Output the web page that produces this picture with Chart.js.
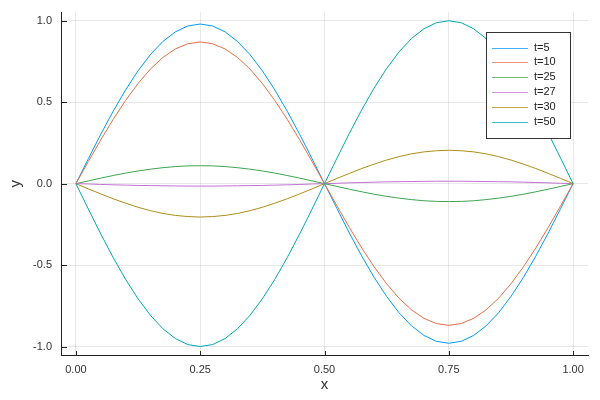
<!DOCTYPE html>
<html>
<head>
<meta charset="utf-8">
<script src="https://cdn.jsdelivr.net/npm/chart.js@4.4.1/dist/chart.umd.min.js"></script>
<style>
html,body{margin:0;padding:0;background:#fff;}
#wrap{width:600px;height:400px;}
</style>
</head>
<body>
<div id="wrap"><canvas id="c" width="600" height="400"></canvas></div>
<script>
// x sample positions
const xs = [0, 0.025, 0.05, 0.075, 0.1, 0.125, 0.15, 0.175, 0.2, 0.225, 0.25,
  0.275, 0.3, 0.325, 0.35, 0.375, 0.4, 0.425, 0.45, 0.475, 0.5,
  0.525, 0.55, 0.575, 0.6, 0.625, 0.65, 0.675, 0.7, 0.725, 0.75,
  0.775, 0.8, 0.825, 0.85, 0.875, 0.9, 0.925, 0.95, 0.975, 1];

const seriesNames = ["t=5", "t=10", "t=25", "t=27", "t=30", "t=50"];

const t5 = [0, 0.153, 0.303, 0.445, 0.576, 0.693, 0.793, 0.873, 0.932, 0.968, 0.980,
  0.968, 0.932, 0.873, 0.793, 0.693, 0.576, 0.445, 0.303, 0.153, 0,
  -0.153, -0.303, -0.445, -0.576, -0.693, -0.793, -0.873, -0.932, -0.968, -0.980,
  -0.968, -0.932, -0.873, -0.793, -0.693, -0.576, -0.445, -0.303, -0.153, 0];

const t10 = [0, 0.136, 0.269, 0.395, 0.511, 0.615, 0.704, 0.775, 0.827, 0.859, 0.870,
  0.859, 0.827, 0.775, 0.704, 0.615, 0.511, 0.395, 0.269, 0.136, 0,
  -0.136, -0.269, -0.395, -0.511, -0.615, -0.704, -0.775, -0.827, -0.859, -0.870,
  -0.859, -0.827, -0.775, -0.704, -0.615, -0.511, -0.395, -0.269, -0.136, 0];

const t25 = [0, 0.017, 0.034, 0.050, 0.065, 0.078, 0.089, 0.098, 0.105, 0.109, 0.110,
  0.109, 0.105, 0.098, 0.089, 0.078, 0.065, 0.050, 0.034, 0.017, 0,
  -0.017, -0.034, -0.050, -0.065, -0.078, -0.089, -0.098, -0.105, -0.109, -0.110,
  -0.109, -0.105, -0.098, -0.089, -0.078, -0.065, -0.050, -0.034, -0.017, 0];

const t27 = [0, -0.002, -0.005, -0.007, -0.009, -0.011, -0.012, -0.013, -0.014, -0.015, -0.015,
  -0.015, -0.014, -0.013, -0.012, -0.011, -0.009, -0.007, -0.005, -0.002, 0,
  0.002, 0.005, 0.007, 0.009, 0.011, 0.012, 0.013, 0.014, 0.015, 0.015,
  0.015, 0.014, 0.013, 0.012, 0.011, 0.009, 0.007, 0.005, 0.002, 0];

const t30 = [0, -0.032, -0.063, -0.093, -0.120, -0.145, -0.166, -0.183, -0.195, -0.202, -0.205,
  -0.202, -0.195, -0.183, -0.166, -0.145, -0.120, -0.093, -0.063, -0.032, 0,
  0.032, 0.063, 0.093, 0.120, 0.145, 0.166, 0.183, 0.195, 0.202, 0.205,
  0.202, 0.195, 0.183, 0.166, 0.145, 0.120, 0.093, 0.063, 0.032, 0];

const t50 = [0, -0.156, -0.309, -0.454, -0.588, -0.707, -0.809, -0.891, -0.951, -0.988, -1.000,
  -0.988, -0.951, -0.891, -0.809, -0.707, -0.588, -0.454, -0.309, -0.156, 0,
  0.156, 0.309, 0.454, 0.588, 0.707, 0.809, 0.891, 0.951, 0.988, 1.000,
  0.988, 0.951, 0.891, 0.809, 0.707, 0.588, 0.454, 0.309, 0.156, 0];

const seriesValues = [t5, t10, t25, t27, t30, t50];
const seriesColors = ["#009AFA", "#E36F47", "#3EA44E", "#C371D2", "#AC8E18", "#00A9AD"];

const xTickValues = [0, 0.25, 0.5, 0.75, 1];
const xTickLabels = ["0.00", "0.25", "0.50", "0.75", "1.00"];
const yTickValues = [-1, -0.5, 0, 0.5, 1];
const yTickLabels = ["-1.0", "-0.5", "0.0", "0.5", "1.0"];

const FONT = "'Liberation Sans', Arial, Helvetica, sans-serif";

const datasets = seriesNames.map((name, i) => ({
  label: name,
  data: xs.map((x, j) => ({x: x, y: seriesValues[i][j]})),
  borderColor: seriesColors[i],
  backgroundColor: seriesColors[i],
  borderWidth: 1,
  pointRadius: 0,
  tension: 0,
  fill: false,
  order: seriesNames.length - i
}));

const innerTicks = {
  id: 'innerTicks',
  afterDatasetsDraw(chart) {
    const ctx = chart.ctx;
    const a = chart.chartArea;
    const sx = chart.scales.x, sy = chart.scales.y;
    ctx.save();
    ctx.strokeStyle = '#222';
    ctx.lineWidth = 1;
    ctx.beginPath();
    xTickValues.forEach(v => {
      const px = Math.round(sx.getPixelForValue(v)) + 0.5;
      ctx.moveTo(px, a.bottom);
      ctx.lineTo(px, a.bottom - 4);
    });
    yTickValues.forEach(v => {
      const py = Math.round(sy.getPixelForValue(v)) + 0.5;
      ctx.moveTo(a.left, py);
      ctx.lineTo(a.left + 6, py);
    });
    ctx.stroke();
    ctx.restore();
  }
};

const boxLegend = {
  id: 'boxLegend',
  afterDraw(chart) {
    const ctx = chart.ctx;
    const bx = 486.5, by = 32.5, bw = 84, bh = 106;
    ctx.save();
    ctx.fillStyle = '#fff';
    ctx.fillRect(bx, by, bw, bh);
    ctx.strokeStyle = '#333';
    ctx.lineWidth = 1;
    ctx.strokeRect(bx, by, bw, bh);
    ctx.font = "11px " + FONT;
    ctx.textBaseline = 'middle';
    ctx.textAlign = 'left';
    chart.data.datasets.forEach((ds, i) => {
      const y = 47.5 + i * 14.9;
      ctx.strokeStyle = ds.borderColor;
      ctx.globalAlpha = 0.75;
      ctx.beginPath();
      ctx.moveTo(492, Math.round(y) + 0.5);
      ctx.lineTo(528, Math.round(y) + 0.5);
      ctx.stroke();
      ctx.globalAlpha = 1;
      ctx.fillStyle = '#222';
      ctx.fillText(ds.label, 534, y);
    });
    ctx.restore();
  }
};

new Chart(document.getElementById('c'), {
  type: 'line',
  data: { datasets: datasets },
  plugins: [innerTicks, boxLegend],
  options: {
    responsive: false,
    animation: false,
    layout: { padding: { top: 12.3, right: 12, left: 0, bottom: 0 } },
    plugins: { legend: { display: false }, tooltip: { enabled: false } },
    scales: {
      x: {
        type: 'linear',
        min: -0.03, max: 1.03,
        afterFit(s) { s.height = 45; },
        afterBuildTicks(s) { s.ticks = xTickValues.map(v => ({value: v})); },
        ticks: {
          padding: 8,
          color: '#333',
          font: { family: FONT, size: 11 },
          maxRotation: 0,
          callback(v) { const k = xTickValues.indexOf(v); return k >= 0 ? xTickLabels[k] : ''; }
        },
        grid: { color: 'rgba(0,0,0,0.09)', drawTicks: false, lineWidth: 1 },
        border: { color: '#222', width: 1 },
        title: { display: true, text: 'x', color: '#333', font: { family: FONT, size: 15 }, padding: { top: 0, bottom: 6 } }
      },
      y: {
        type: 'linear',
        min: -1.052, max: 1.052,
        afterFit(s) { s.width = 61; },
        afterBuildTicks(s) { s.ticks = yTickValues.map(v => ({value: v})); },
        ticks: {
          padding: 9,
          color: '#333',
          font: { family: FONT, size: 11, lineHeight: 0.6 },
          callback(v) { const k = yTickValues.indexOf(v); return k >= 0 ? yTickLabels[k] : ''; }
        },
        grid: { color: 'rgba(0,0,0,0.09)', drawTicks: false, lineWidth: 1 },
        border: { color: '#222', width: 1 },
        title: { display: true, text: 'y', color: '#333', font: { family: FONT, size: 15 }, padding: { top: 7, bottom: 7 } }
      }
    }
  }
});
</script>
</body>
</html>
